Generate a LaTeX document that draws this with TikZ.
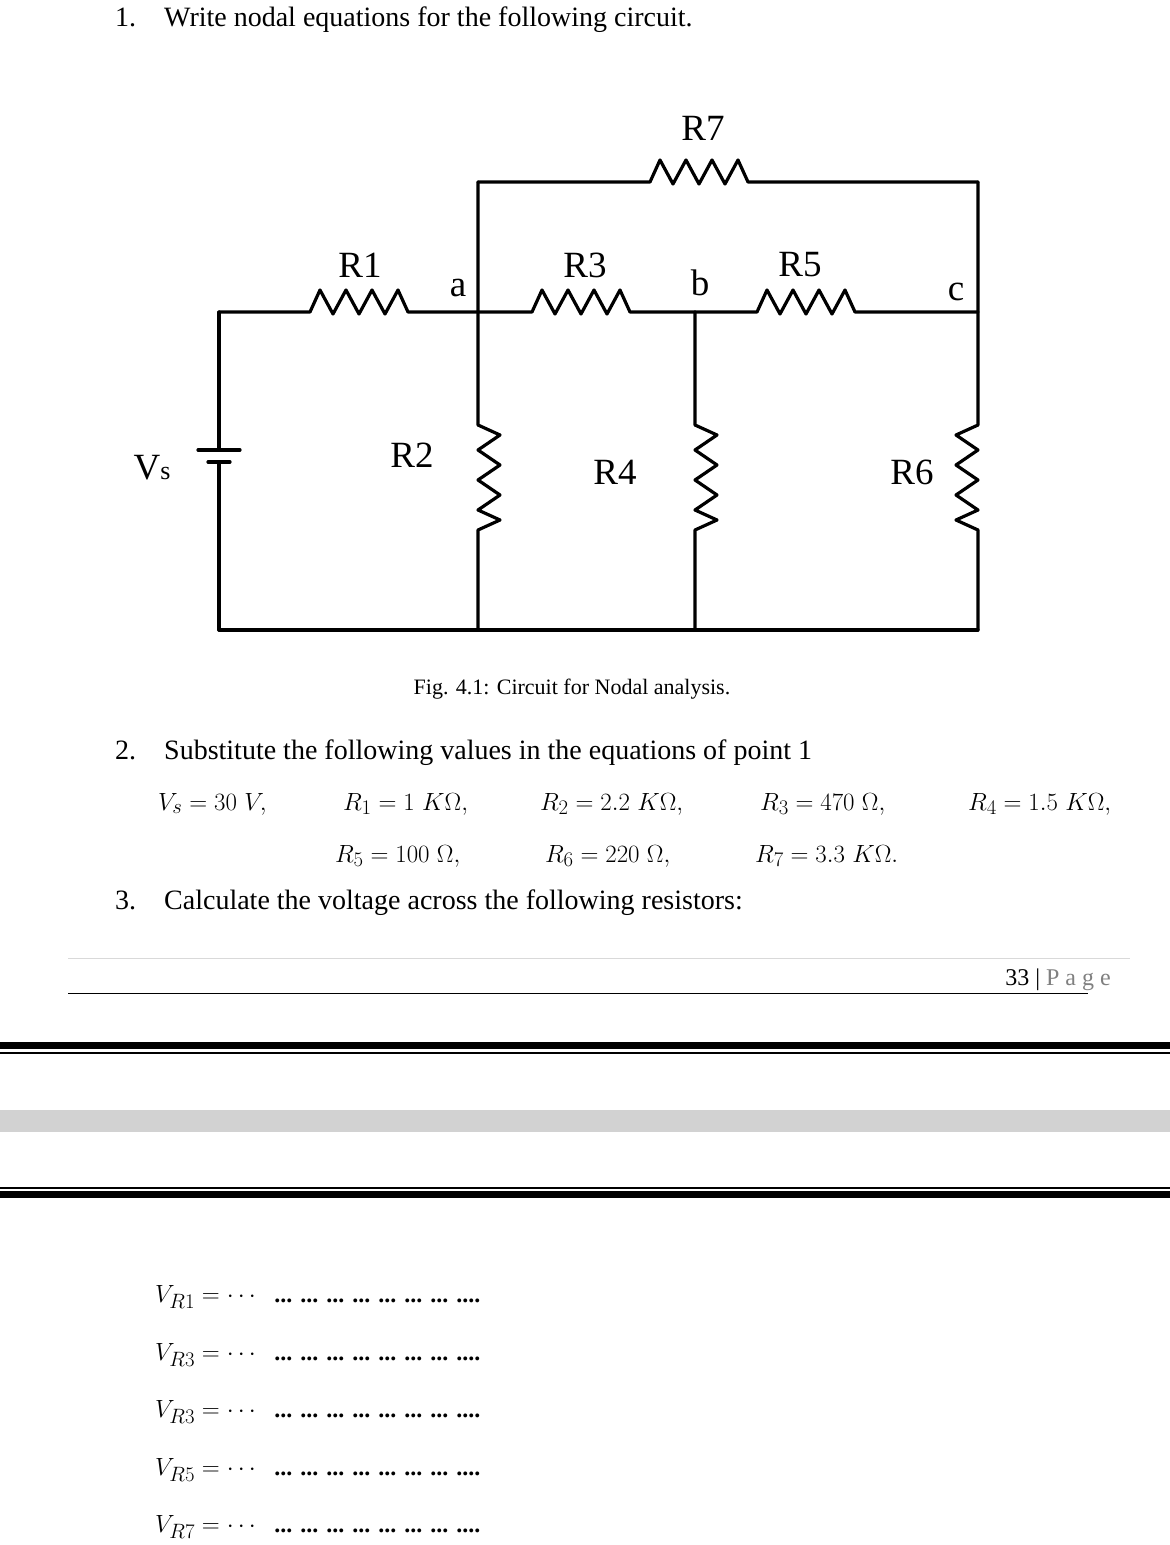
\documentclass[tikz,border=0pt]{standalone}
\usepackage{fontspec}
\setmainfont{Liberation Serif}
\usepackage{amsmath}
\begin{document}
\begin{tikzpicture}[x=1pt,y=-1pt,
  w/.style={line width=3.2pt,line cap=round,line join=round},
  lbl/.style={font=\fontsize{37}{40}\selectfont,inner sep=0},
  txt/.style={font=\fontsize{28}{32}\selectfont,anchor=west,inner sep=0},
  eq/.style={font=\fontsize{29}{32}\selectfont,anchor=west,inner sep=0}]
\useasboundingbox (0,0) rectangle (1170,1545);
% nodes
\coordinate (TL) at (219,312); \coordinate (BL) at (219,630);
\coordinate (a) at (478,312); \coordinate (aT) at (478,182); \coordinate (aB) at (478,630);
\coordinate (b) at (695,312); \coordinate (bB) at (695,630);
\coordinate (c) at (978,312); \coordinate (cT) at (978,182); \coordinate (cB) at (978,630);
% wires with horizontal resistors
\draw[w] (TL) -- (310,312) -- (320,290) -- (333,314) -- (346,290) -- (359,314) -- (372,290) -- (385,314) -- (398,290) -- (408,312) -- (a);
\draw[w] (a) -- (532,312) -- (542,290) -- (555,314) -- (568,290) -- (581,314) -- (594,290) -- (607,314) -- (620,290) -- (630,312) -- (b);
\draw[w] (b) -- (757,312) -- (767,290) -- (780,314) -- (793,290) -- (806,314) -- (819,290) -- (832,314) -- (845,290) -- (855,312) -- (c);
\draw[w] (aT) -- (650,182) -- (660,160) -- (673,184) -- (686,160) -- (699,184) -- (712,160) -- (725,184) -- (738,160) -- (748,182) -- (cT);
% verticals
\draw[w] (aT) -- (a) -- (478,425) -- (500,435) -- (478,450) -- (500,465) -- (478,480) -- (500,495) -- (478,510) -- (500,520) -- (478,530) -- (aB);
\draw[w] (b) -- (695,425) -- (717,435) -- (695,450) -- (717,465) -- (695,480) -- (717,495) -- (695,510) -- (717,520) -- (695,530) -- (bB);
\draw[w] (cT) -- (c) -- (978,425) -- (956,435) -- (978,450) -- (956,465) -- (978,480) -- (956,495) -- (978,510) -- (956,520) -- (978,530) -- (cB);
\draw[w] (TL) -- (219,450); \draw[w] (219,462) -- (BL);
\draw[w] (198,450) -- (240,450); \draw[w] (208,462) -- (230,462);
\draw[w] (BL) -- (cB);
% labels
\node[lbl] (l1) at (360,265) {R1};
\node[lbl] (l2) at (412,455) {R2};
\node[lbl] (l3) at (585,265) {R3};
\node[lbl] (l4) at (615,472) {R4};
\node[lbl] (l5) at (800,265) {R5};
\node[lbl] (l6) at (912,472) {R6};
\node[lbl] (l7) at (703,128) {R7};
\node[lbl] (lvs) at (152,468) {V\fontsize{26}{30}\selectfont s};
\node[lbl] (la) at (458,288) {a};
\node[lbl] (lb) at (700,283) {b};
\node[lbl] (lc) at (956,292) {c};
% text
\node[txt] (t1) at (115,20) {1.\quad Write nodal equations for the following circuit.};
\node[font=\fontsize{22}{26}\selectfont,inner sep=0] (cap) at (572,689) {Fig. 4.1: Circuit for Nodal analysis.};
\node[txt] (t2) at (115,753) {2.\quad Substitute the following values in the equations of point 1};
\node[eq] (e1) at (158,804) {$V_s = 30\ V,$};
\node[eq] (e2) at (343,804) {$R_1 = 1\ K\Omega,$};
\node[eq] (e3) at (540,804) {$R_2 = 2.2\ K\Omega,$};
\node[eq] (e4) at (760,804) {$R_3 = 470\ \Omega,$};
\node[eq] (e5) at (968,804) {$R_4 = 1.5\ K\Omega,$};
\node[eq] (e6) at (335,856) {$R_5 = 100\ \Omega,$};
\node[eq] (e7) at (545,856) {$R_6 = 220\ \Omega,$};
\node[eq] (e8) at (755,856) {$R_7 = 3.3\ K\Omega.$};
\node[txt] (t3) at (115,903) {3.\quad Calculate the voltage across the following resistors:};
% page footer
\draw[gray!30,line width=1pt] (68,958) -- (1130,958);
\draw[black,line width=1pt] (68,993) -- (1088,993);
\node[font=\fontsize{24}{28}\selectfont,inner sep=0] (pg) at (1058,980) {33 | \textcolor{gray}{P a g e}};
\fill[black] (0,1042) rectangle (1170,1049);
\fill[black] (0,1052) rectangle (1170,1054);
\fill[gray!35] (0,1110) rectangle (1170,1132);
\fill[black] (0,1187) rectangle (1170,1189);
\fill[black] (0,1191) rectangle (1170,1198);
% equations
\foreach \y/\s in {1297/R1,1355/R3,1412/R3,1470/R5,1527/R7}
  \node[eq] at (155,\y) {$V_{\s} = \cdots$\ \ {\fontsize{24}{28}\selectfont\bfseries ... ... ... ... ... ... ... ....}};
\end{tikzpicture}
\end{document}
